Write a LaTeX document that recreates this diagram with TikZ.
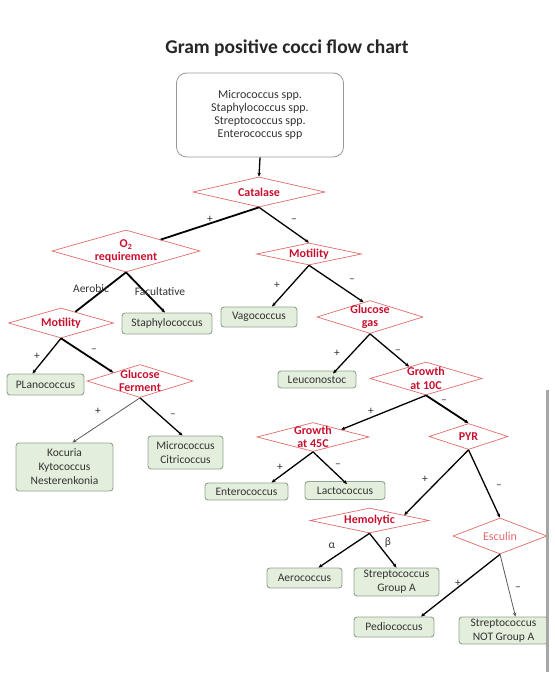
\documentclass[tikz,border=0pt]{standalone}
\usepackage{fontspec}
\setmainfont{Carlito}
\usetikzlibrary{arrows.meta,shapes.geometric,calc}
\definecolor{testred}{HTML}{E06C6C}
\definecolor{testtext}{HTML}{C8102E}
\definecolor{leaffill}{HTML}{E3EEDC}
\definecolor{leafline}{HTML}{8FA38F}
\definecolor{inktext}{HTML}{333333}

\begin{document}
\begin{tikzpicture}[
        x=1pt, y=-1pt,
        test/.style={draw=testred, diamond, inner sep=0pt, line width=0.7pt},
        testlbl/.style={text=testtext, font=\bfseries\fontsize{12}{13.5}\selectfont,
            align=center, inner sep=0pt},
        leaf/.style={draw=leafline, fill=leaffill, rounded corners=3pt, line width=0.9pt,
            text=inktext, font=\fontsize{11.5}{14}\selectfont, align=center, inner sep=0pt},
        sign/.style={text=inktext, font=\fontsize{11.5}{14}\selectfont, inner sep=0pt},
        flow/.style={draw, -{Stealth[length=4pt, width=3.5pt]}, line width=1.3pt},
        bold flow/.style={flow, line width=1.8pt},
        light flow/.style={flow, line width=0.8pt, draw=black!65},
    ]
    \useasboundingbox (0,0) rectangle (554,700);

    % title and start box
    \node[font=\bfseries\fontsize{19.5}{22}\selectfont, text=black!85] (title) at (287,48)
        {Gram positive cocci flow chart};
    \node[draw=black!40, rounded corners=10pt, line width=0.8pt, minimum width=167pt,
        minimum height=84pt, align=center, text=inktext,
        font=\fontsize{12}{13}\selectfont] (start) at (260,115)
        {Micrococcus spp.\\Staphylococcus spp.\\Streptococcus spp.\\Enterococcus spp};

    % tests
    \node[test, minimum width=132pt, minimum height=30pt,
        label={[testlbl]center:Catalase}] (catalase) at (259,192) {};
    \node[test, minimum width=148pt, minimum height=42pt,
        label={[testlbl]center:{O\textsubscript{2}\\requirement}}] (oxygen) at (126,251) {};
    \node[test, minimum width=105pt, minimum height=22pt,
        label={[testlbl]center:Motility}] (motb) at (309,254) {};
    \node[test, minimum width=105pt, minimum height=30pt,
        label={[testlbl]center:Motility}] (mota) at (61,323) {};
    \node[test, minimum width=106pt, minimum height=33pt,
        label={[testlbl]center:{Glucose\\gas}}] (glugas) at (370,317) {};
    \node[test, minimum width=106pt, minimum height=33pt,
        label={[testlbl]center:{Glucose\\Ferment}}] (gluferm) at (140,381) {};
    \node[test, minimum width=112pt, minimum height=33pt,
        label={[testlbl]center:{Growth\\at 10C}}] (grow10) at (426,378.5) {};
    \node[test, minimum width=112pt, minimum height=29pt,
        label={[testlbl]center:{Growth\\at 45C}}] (grow45) at (313,437) {};
    \node[test, minimum width=79pt, minimum height=26pt,
        label={[testlbl]center:PYR}] (pyr) at (468.5,436.5) {};
    \node[test, minimum width=119pt, minimum height=25pt,
        label={[testlbl]center:Hemolytic}] (hemo) at (369.5,520.5) {};
    \node[test, minimum width=94pt, minimum height=36pt,
        label={[testlbl, text=testred, font=\fontsize{12}{13.5}\selectfont]center:Esculin}]
        (esculin) at (500,536) {};

    % results
    \node[leaf, minimum width=90pt, minimum height=21pt] (staph) at (167,323.5) {Staphylococcus};
    \node[leaf, minimum width=76pt, minimum height=20pt] (vago) at (259,317) {Vagococcus};
    \node[leaf, minimum width=77pt, minimum height=21pt] (plano) at (45.5,384.5) {PLanococcus};
    \node[leaf, minimum width=97pt, minimum height=48pt] (kocuria) at (64.5,467)
        {Kocuria\\Kytococcus\\Nesterenkonia};
    \node[leaf, minimum width=75pt, minimum height=33pt] (micro) at (185.5,452.5)
        {Micrococcus\\Citricoccus};
    \node[leaf, minimum width=78pt, minimum height=17pt] (leuco) at (317,379.5) {Leuconostoc};
    \node[leaf, minimum width=83pt, minimum height=17pt] (entero) at (246.5,491.5) {Enterococcus};
    \node[leaf, minimum width=80pt, minimum height=18pt] (lacto) at (345,490.5) {Lactococcus};
    \node[leaf, minimum width=75pt, minimum height=20pt] (aero) at (304.5,578) {Aerococcus};
    \node[leaf, minimum width=85pt, minimum height=28pt] (strepa) at (396.5,582)
        {Streptococcus\\Group A};
    \node[leaf, minimum width=80pt, minimum height=20pt] (pedio) at (394,627) {Pediococcus};
    \node[leaf, minimum width=89pt, minimum height=27pt] (strepn) at (503.5,630.5)
        {Streptococcus\\NOT Group A};

    % connectors
    \draw[flow] (start.south) -- (catalase.north);
    \draw[line width=1.8pt] (catalase.south) -- (oxygen);
    \draw[flow] (catalase.south) -- (motb.north);
    \draw[line width=1.8pt] (oxygen.south) -- (mota);
    \draw[bold flow] (oxygen.south) -- ([xshift=-2pt]staph.north);
    \draw[flow] (motb.south) -- ([xshift=13pt]vago.north);
    \draw[flow] (motb.south) -- ($(glugas.north)!0.12!(glugas.west)$);
    \draw[flow] (mota.south) -- ([xshift=-13pt]plano.north);
    \draw[bold flow] (mota.south) -- (gluferm.north west);
    \draw[light flow] (gluferm.south) -- ([xshift=8pt]kocuria.north);
    \draw[flow] (gluferm.south) -- ([xshift=-3pt]micro.north);
    \draw[flow] (glugas.south) -- ([xshift=16pt, yshift=-3pt]leuco.north);
    \draw[flow] (glugas.south) -- ($(grow10.north)!0.3!(grow10.west)$);
    \draw[flow] (grow10.south) -- (grow45.north east);
    \draw[bold flow] (grow10.south) -- (pyr.north);
    \draw[flow] (grow45.south) -- ([xshift=25pt]entero.north);
    \draw[flow] (grow45.south) -- ([xshift=2pt, yshift=-3pt]lacto.north);
    \draw[flow] (pyr.south) -- ($(hemo.north)!0.58!(hemo.east)$);
    \draw[flow] (pyr.south) -- (esculin.north);
    \draw[flow] (hemo.south) -- ([xshift=14pt]aero.north);
    \draw[flow] (hemo.south) -- (strepa.north);
    \draw[flow] (esculin.south) -- ([xshift=27pt]pedio.north);
    \draw[light flow] (esculin.south) -- ([xshift=12pt]strepn.north);

    % branch labels
    \node[sign] (catplus) at (210,219) {+};
    \node[sign] (catminus) at (294,221) {--};
    \node[sign] (aerobic) at (91,289) {Aerobic};
    \node[sign] (facult) at (160,292) {Facultative};
    \node[sign] (motbplus) at (277,285) {+};
    \node[sign] (motbminus) at (352,281) {--};
    \node[sign] (motaplus) at (37,356) {+};
    \node[sign] (motaminus) at (94,351) {--};
    \node[sign] (fermplus) at (98,411) {+};
    \node[sign] (fermminus) at (173,416) {--};
    \node[sign] (gasplus) at (337,353) {+};
    \node[sign] (gasminus) at (398,352) {--};
    \node[sign] (tenplus) at (371,411) {+};
    \node[sign] (tenminus) at (444,402) {--};
    \node[sign] (fortyplus) at (280,467) {+};
    \node[sign] (fortyminus) at (338,466) {--};
    \node[sign] (pyrplus) at (425,479) {+};
    \node[sign] (pyrminus) at (499,487) {--};
    \node[sign] (alpha) at (332,546) {α};
    \node[sign] (beta) at (388,543) {β};
    \node[sign] (escplus) at (458,583) {+};
    \node[sign] (escminus) at (518,589) {--};

    % side bar
    \fill[black!35] (546,390) rectangle (549,672);
\end{tikzpicture}
\end{document}
